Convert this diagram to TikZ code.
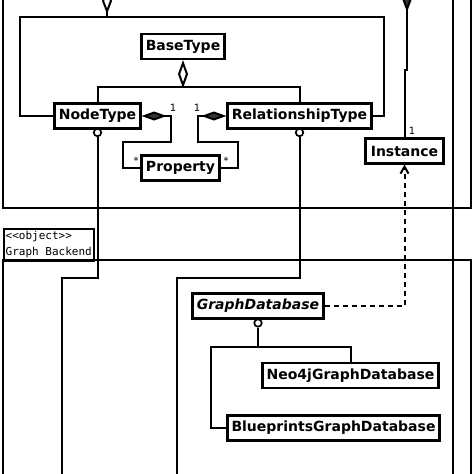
\documentclass[tikz,border=0pt]{standalone}
\usepackage{fontspec}
\setmainfont{DejaVu Sans}
\setmonofont{DejaVu Sans Mono}
\usetikzlibrary{arrows.meta}
\begin{document}
\begin{tikzpicture}[x=1pt,y=-1pt,
  cls/.style={draw,line width=2.2pt,font=\fontsize{14}{16}\selectfont\bfseries,minimum height=25pt,inner sep=0pt,fill=white},
  conn/.style={line width=2pt},
  pkg/.style={line width=1.5pt},
  lolli/.style={circle,draw,line width=1.7pt,fill=white,minimum size=7.5pt,inner sep=0pt},
  mult/.style={font=\fontsize{10}{11}\selectfont,inner sep=0pt},
  agg/.style={-{Diamond[open,length=#1,width=10pt]}},
  comp/.style={{Diamond[length=25pt,width=9pt,fill=black!80]}-}
]
\useasboundingbox (0,0) rectangle (474,474);
\clip (0,0) rectangle (474,474);

% packages
\draw[pkg] (3,-20) rectangle (471,208);
\draw[pkg] (3,260) rectangle (471,500);
\node[draw,pkg,anchor=north west,minimum width=90pt,minimum height=32pt,inner sep=1.5pt,align=left,
      font=\ttfamily\fontsize{11}{16}\selectfont] (tab) at (3,228) {\mbox{<}\mbox{<}object\mbox{>}\mbox{>}\\Graph Backend};

% through line on the right
\coordinate (rt) at (453,-10);
\coordinate (rb) at (453,490);
\draw[pkg] (rt) -- (rb);

% classes
\node[cls,minimum width=83pt] (base) at (183,46.5) {BaseType};
\node[cls,minimum width=86pt] (node) at (97.5,116) {NodeType};
\node[cls,minimum width=144pt] (rel) at (299.5,116) {RelationshipType};
\node[cls,minimum width=78pt] (prop) at (180.5,168) {Property};
\node[cls,minimum width=78pt] (inst) at (404.5,151) {Instance};
\node[cls,minimum width=131pt,font=\fontsize{14}{16}\selectfont\bfseries\itshape] (gdb) at (258,306) {GraphDatabase};
\node[cls,minimum width=176pt] (neo) at (350.5,375.5) {Neo4jGraphDatabase};
\node[cls,minimum width=212pt] (bp) at (333.5,428) {BlueprintsGraphDatabase};

% outer aggregation at top left
\coordinate (tj) at (107,17);
\coordinate (ttop) at (107,-12);
\draw[conn] (node.west) -- (20,116) -- (20,17) -- (384,17) -- (384,116) -- (rel.east);
\draw[conn,agg=26pt] (tj) -- (ttop);

% BaseType aggregation
\coordinate (bj) at (183,87);
\draw[conn] (node.north) |- (bj) -| (rel.north);
\draw[conn,agg=28pt] (bj) -- (base.south);

% compositions with Property
\draw[conn,comp] (node.east) -- (171,116) -- (171,142) -- (123,142) -- (123,168) -- (prop.west);
\draw[conn,comp] (rel.west) -- (198,116) -- (198,142) -- (238,142) -- (238,168) -- (prop.east);
\node[mult] at (173,108) {1};
\node[mult] at (197,108) {1};
\node[mult] at (136,161) {*};
\node[mult] at (226,161) {*};

% Instance composition from top
\coordinate (itop) at (407,-12);
\draw[conn,{Diamond[length=24pt,width=9pt,fill=black!80]}-] (itop) -- (407,70) -- (404.5,70) -- (inst.north);
\node[mult] at (412,131) {1};

% dependency
\draw[conn,dash pattern=on 5pt off 4pt,-{Straight Barb[length=7pt,width=8pt]}] (gdb.east) -- (404.5,306) -- (inst.south);

% lollipops
\node[lolli] (l1) at (97.5,132.5) {};
\node[lolli] (l2) at (299.5,132.5) {};
\node[lolli] (l3) at (258,323) {};
\coordinate (e1) at (62,490);
\coordinate (e2) at (177,490);
\draw[conn] (l1.south) -- (97.5,278) -- (62,278) -- (e1);
\draw[conn] (l2.south) -- (299.5,278) -- (177,278) -- (e2);
\draw[conn] (l3.south) -- (258,347);
\draw[conn] (bp.west) -- (211,428) -- (211,347) -- (350.5,347) -- (neo.north);
\end{tikzpicture}
\end{document}
